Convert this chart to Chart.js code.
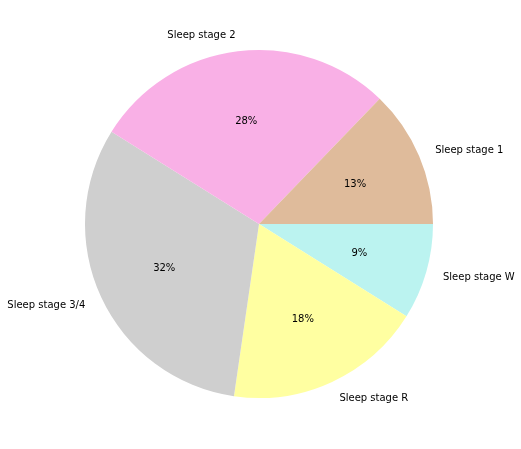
<!DOCTYPE html>
<html>
<head>
<meta charset="utf-8">
<script src="https://cdn.jsdelivr.net/npm/chart.js@4"></script>
<style>
  html, body { margin: 0; padding: 0; background: #fff; }
  #wrap { width: 521px; height: 449px; }
</style>
</head>
<body>
<div id="wrap"><canvas id="c" width="521" height="449"></canvas></div>
<script>
// data, in matplotlib order (counter-clockwise from east)
const LABELS = ['Sleep stage 1', 'Sleep stage 2', 'Sleep stage 3/4', 'Sleep stage R', 'Sleep stage W'];
const VALUES = [12.8, 28.3, 31.6, 18.4, 8.9];
const COLORS = ['#DFBB9B', '#F9B0E6', '#CFCFCF', '#FFFFA1', '#BBF3F0'];

// Chart.js draws clockwise, so reverse to get the counter-clockwise look
const labels = LABELS.slice().reverse();
const values = VALUES.slice().reverse();
const colors = COLORS.slice().reverse();

const FONT = '10px "DejaVu Sans"';

// draws outer labels and percent texts like matplotlib autopct
const pieText = {
  id: 'pieText',
  afterDatasetsDraw(chart) {
    const ctx = chart.ctx;
    const meta = chart.getDatasetMeta(0);
    const total = values.reduce((a, b) => a + b, 0);
    ctx.save();
    ctx.font = FONT;
    ctx.fillStyle = '#000';
    ctx.textBaseline = 'middle';
    meta.data.forEach((arc, i) => {
      const mid = (arc.startAngle + arc.endAngle) / 2;
      const r = arc.outerRadius;
      const cx = arc.x, cy = arc.y + 1; // small nudge to match baseline
      // percent
      ctx.textAlign = 'center';
      const pct = Math.round(values[i] * 100 / total) + '%';
      ctx.fillText(pct, cx + Math.cos(mid) * r * 0.6, cy + Math.sin(mid) * r * 0.6);
      // label
      const lx = cx + Math.cos(mid) * r * 1.1;
      const ly = cy + Math.sin(mid) * r * 1.1;
      ctx.textAlign = Math.cos(mid) >= 0 ? 'left' : 'right';
      ctx.fillText(labels[i], lx, ly);
    });
    ctx.restore();
  }
};

new Chart(document.getElementById('c'), {
  type: 'pie',
  data: {
    labels: labels,
    datasets: [{
      data: values,
      backgroundColor: colors,
      borderWidth: 0
    }]
  },
  options: {
    responsive: false,
    animation: false,
    rotation: 90,
    layout: { padding: { left: 85, right: 88, top: 50, bottom: 51 } },
    plugins: {
      legend: { display: false },
      tooltip: { enabled: false }
    }
  },
  plugins: [pieText]
});
</script>
</body>
</html>
